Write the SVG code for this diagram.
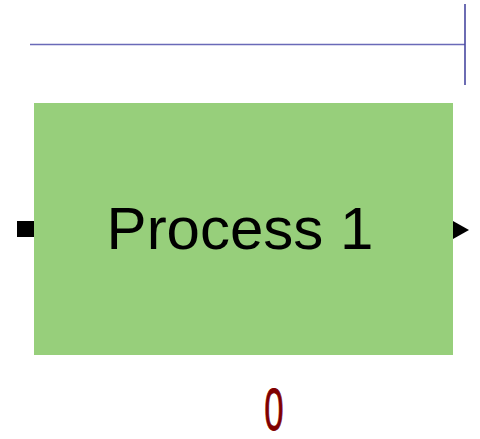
<svg xmlns="http://www.w3.org/2000/svg" width="480" height="439" viewBox="0 0 480 439">
<style>
.lbl{font-family:"Liberation Sans",Arial,sans-serif;}
</style>
<rect width="480" height="439" fill="#ffffff"/>
<g id="connectors">
<line x1="30" y1="44.5" x2="465" y2="44.5" stroke="#6a6ab8" stroke-width="1.6"/>
<line x1="465" y1="4" x2="465" y2="85" stroke="#4848a0" stroke-width="1.6"/>
</g>
<g id="process1">
<rect x="34" y="103" width="419" height="252" fill="#97cf7b"/>
<rect x="17" y="221" width="17" height="16" fill="#000000"/>
<polygon points="453,221 469,230 453,239" fill="#000000"/>
<text class="lbl" x="240" y="249" font-size="60" text-anchor="middle" fill="#000000">Process 1</text>
</g>
<g id="counter">
<text class="lbl" transform="translate(274,430) scale(0.58,1)" x="0" y="0" font-size="60" text-anchor="middle" fill="#800000" stroke="#800000" stroke-width="0.8">0</text>
</g>
</svg>
